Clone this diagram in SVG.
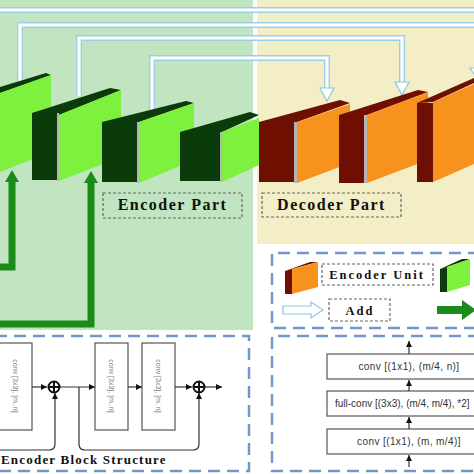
<svg xmlns="http://www.w3.org/2000/svg" width="474" height="474" viewBox="0 0 474 474">
<defs>
<style>
.lbl{font-family:"Liberation Serif",serif;font-weight:bold;fill:#111;}
.dotbox{fill:none;stroke:#666;stroke-width:1.2;stroke-dasharray:3 2;}
.dash{fill:none;stroke:#7397cc;stroke-width:2.5;stroke-dasharray:12 7;}
.pipeO{fill:none;stroke:#9dcfe3;stroke-width:6;}
.pipeI{fill:none;stroke:#ffffff;stroke-width:3.2;}
.ahead{fill:#ffffff;stroke:#8fc6de;stroke-width:1.2;}
.gdark{fill:#0b3a0b;}
.glight{fill:#7ef03e;}
.rdark{fill:#6e0f02;}
.orange{fill:#f8921e;}
.sep{fill:#b4b4b4;}
.garrow{fill:none;stroke:#1a8c1a;stroke-width:7;}
.gfill{fill:#1a8c1a;}
.cbox{fill:#fff;stroke:#555;stroke-width:1.2;}
.ctext{font-family:"Liberation Sans",Arial,sans-serif;font-size:10px;fill:#333;}
.rtext{font-family:"Liberation Sans",Arial,sans-serif;font-size:7px;fill:#7a7a7a;}
.wire{fill:none;stroke:#333;stroke-width:1.2;}
.plus{fill:none;stroke:#111;stroke-width:2;}
</style>
<marker id="tri" viewBox="0 0 10 10" refX="10" refY="5" markerWidth="6" markerHeight="6" orient="auto" markerUnits="userSpaceOnUse">
<path d="M0,0 L10,5 L0,10 z" fill="#111"/>
</marker>
</defs>

<!-- backgrounds -->
<rect x="0" y="0" width="474" height="474" fill="#ffffff"/>
<rect x="0" y="0" width="253" height="330" fill="#c0e5c0"/>
<rect x="257" y="0" width="217" height="244" fill="#f3eec5"/>

<!-- connectors -->
<g id="connectors">
  <path class="pipeO" d="M-5,10 H480"/>
  <path class="pipeI" d="M-5,10 H480"/>
  <path class="pipeO" d="M20,81 V25 H478 V70"/>
  <path class="pipeI" d="M20,81 V25 H478 V70"/>
  <polygon class="ahead" points="470,68 486,68 478,80"/>
  <path class="pipeO" d="M79,96 V38 H402 V84"/>
  <path class="pipeI" d="M79,96 V38 H402 V84"/>
  <polygon class="ahead" points="395,82 409,82 402,95"/>
  <path class="pipeO" d="M152,110 V58 H327 V90"/>
  <path class="pipeI" d="M152,110 V58 H327 V90"/>
  <polygon class="ahead" points="320,88 334,88 327,101"/>
  <path class="garrow" d="M-5,267 H12 V180"/>
  <polygon class="gfill" points="5,182 19,182 12,170"/>
  <path class="garrow" d="M-5,324 H91 V180"/>
  <polygon class="gfill" points="84,183 98,183 91,171"/>
</g>

<!-- encoder blocks -->
<g id="enc1">
  <polygon class="gdark" points="0,87 46,73 51,75 0,93"/>
  <polygon class="glight" points="0,93 51,75 51,152 0,172"/>
</g>
<g id="enc2">
  <polygon class="gdark" points="32,113 110,88 121,90 59,115"/>
  <rect class="gdark" x="32" y="113" width="25" height="67"/>
  <rect class="sep" x="57" y="113" width="2" height="68"/>
  <polygon class="glight" points="59,115 121,90 121,157 59,181"/>
</g>
<g id="enc3">
  <polygon class="gdark" points="102,122 186,101 194,103 139,122"/>
  <rect class="gdark" x="102" y="122" width="35" height="60"/>
  <rect class="sep" x="137" y="122" width="2" height="61"/>
  <polygon class="glight" points="139,122 194,103 194,160 139,183"/>
</g>
<g id="enc4">
  <polygon class="gdark" points="180,132 250,112 259,115 222,132"/>
  <rect class="gdark" x="180" y="132" width="40" height="49"/>
  <rect class="sep" x="220" y="132" width="2" height="50"/>
  <polygon class="glight" points="222,132 259,118 259,165 222,182"/>
</g>

<!-- decoder blocks -->
<g id="dec1">
  <polygon class="rdark" points="259,122 340,100 350,103 297,122"/>
  <rect class="rdark" x="259" y="122" width="35" height="60"/>
  <rect class="sep" x="294" y="122" width="3" height="61"/>
  <polygon class="orange" points="297,122 350,104 350,163 297,183"/>
</g>
<g id="dec2">
  <polygon class="rdark" points="339,115 418,90 428,92 367,115"/>
  <rect class="rdark" x="339" y="115" width="25" height="68"/>
  <rect class="sep" x="364" y="115" width="3" height="68"/>
  <polygon class="orange" points="367,115 428,92 428,160 367,183"/>
</g>
<g id="dec3">
  <polygon class="rdark" points="417,103 474,78 474,83 433,102"/>
  <rect class="rdark" x="417" y="103" width="16" height="79"/>
  <polygon class="orange" points="433,102 474,84 474,164 433,182"/>
</g>

<!-- part labels -->
<g id="encoder-part">
  <rect class="dotbox" x="103" y="193" width="139" height="25"/>
  <text class="lbl" x="172.5" y="210" font-size="16" letter-spacing="1.5" text-anchor="middle">Encoder Part</text>
</g>
<g id="decoder-part">
  <rect class="dotbox" x="262" y="193" width="139" height="24"/>
  <text class="lbl" x="331.5" y="210" font-size="16" letter-spacing="1.5" text-anchor="middle">Decoder Part</text>
</g>

<!-- legend -->
<g id="legend">
  <path class="dash" d="M480,253 H272 V328 H480"/>
  <polygon class="rdark" points="285,271 310,262 318,262 292,269"/>
  <polygon class="rdark" points="285,271 292,269 292,294 285,294"/>
  <polygon class="orange" points="292,269 318,262 318,287 292,294"/>
  <rect class="dotbox" x="322" y="264" width="111" height="21"/>
  <text class="lbl" x="377" y="279" font-size="12.5" letter-spacing="2" text-anchor="middle">Encoder Unit</text>
  <polygon class="gdark" points="440,269 462,259 470,259 447,267"/>
  <polygon class="gdark" points="440,269 447,267 447,292 440,292"/>
  <polygon class="glight" points="447,267 470,259 470,285 447,292"/>
  <polygon points="283,306 311,306 311,302 323,310 311,318 311,314 283,314" fill="#fff" stroke="#8cc6de" stroke-width="1.2"/>
  <rect class="dotbox" x="329" y="299" width="61" height="22"/>
  <text class="lbl" x="360" y="314.5" font-size="12.5" letter-spacing="2" text-anchor="middle">Add</text>
  <polygon class="gfill" points="437,306 462,306 462,300 476,310 462,320 462,314 437,314"/>
</g>

<!-- decoder unit structure -->
<g id="decoder-unit">
  <path class="dash" d="M480,336 H272 V471 H480"/>
  <rect class="cbox" x="327" y="354" width="164" height="25"/>
  <text class="ctext" x="409" y="370" text-anchor="middle" letter-spacing="0.4">conv [(1x1), (m/4, n)]</text>
  <rect class="cbox" x="327" y="391" width="164" height="25"/>
  <text class="ctext" x="335" y="407">full-conv [(3x3), (m/4, m/4), *2]</text>
  <rect class="cbox" x="327" y="429" width="164" height="25"/>
  <text class="ctext" x="409" y="445" text-anchor="middle" letter-spacing="0.4">conv [(1x1), (m, m/4)]</text>
  <path class="wire" d="M409,467 V455" marker-end="url(#tri)"/>
  <path class="wire" d="M409,429 V417" marker-end="url(#tri)"/>
  <path class="wire" d="M409,391 V380" marker-end="url(#tri)"/>
  <path class="wire" d="M409,354 V341" marker-end="url(#tri)"/>
</g>

<!-- encoder block structure -->
<g id="encoder-block">
  <path class="dash" d="M-5,336 H249 V471 H-5"/>
  <rect class="cbox" x="-20" y="343" width="52" height="87"/>
  <text class="rtext" transform="translate(13,386) rotate(90)" text-anchor="middle">conv [3x3], [m, n]</text>
  <rect class="cbox" x="95" y="343" width="33" height="87"/>
  <text class="rtext" transform="translate(109,386) rotate(90)" text-anchor="middle">conv [3x3], [m, n]</text>
  <rect class="cbox" x="142" y="343" width="33" height="87"/>
  <text class="rtext" transform="translate(156,386) rotate(90)" text-anchor="middle">conv [3x3], [m, n]</text>
  <circle class="plus" cx="54" cy="387" r="5.5"/>
  <path class="plus" d="M48.5,387 H59.5 M54,381.5 V392.5"/>
  <circle class="plus" cx="199" cy="387" r="5.5"/>
  <path class="plus" d="M193.5,387 H204.5 M199,381.5 V392.5"/>
  <path class="wire" d="M32,387 H47" marker-end="url(#tri)"/>
  <path class="wire" d="M60,387 H95" marker-end="url(#tri)"/>
  <path class="wire" d="M128,387 H142" marker-end="url(#tri)"/>
  <path class="wire" d="M175,387 H192" marker-end="url(#tri)"/>
  <path class="wire" d="M205,387 H222" marker-end="url(#tri)"/>
  <path class="wire" d="M-5,450 H49 Q55,450 55,444 V393" marker-end="url(#tri)"/>
  <path class="wire" d="M79,387 V444 Q79,450 85,450 H193 Q199,450 199,444 V393" marker-end="url(#tri)"/>
  <text class="lbl" x="1" y="464" font-size="13" letter-spacing="1.2">Encoder Block Structure</text>
</g>
</svg>
